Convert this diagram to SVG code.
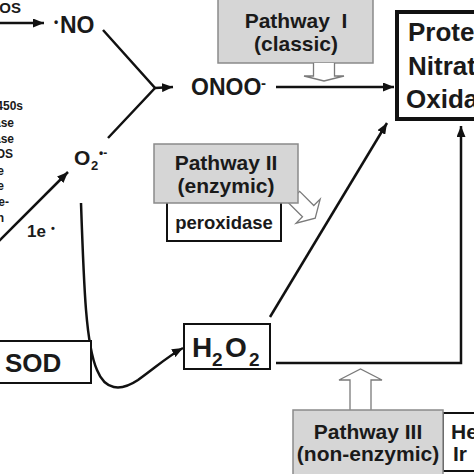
<svg xmlns="http://www.w3.org/2000/svg" width="474" height="474" viewBox="0 0 474 474">
<style>
text{font-family:"Liberation Sans",Arial,sans-serif;font-weight:bold;fill:#1a1a1a}
.ln{fill:none;stroke:#111;stroke-width:2.5}
.bx{fill:#fff;stroke:#111;stroke-width:2}
.gb{fill:#d6d6d6;stroke:#8a8a8a;stroke-width:1.5}
.ha{fill:#fff;stroke:#7a7a7a;stroke-width:1.3}
.pw{font-size:21px}
.sm{font-size:12px}
</style>
<defs>
<marker id="ah" markerUnits="userSpaceOnUse" markerWidth="11" markerHeight="9" refX="11" refY="4.5" orient="auto">
<path d="M0,0 L11,4.5 L0,9 z" fill="#111"/>
</marker>
</defs>

<g id="connectors">
<line class="ln" x1="-2" y1="23" x2="44" y2="23" marker-end="url(#ah)"/>
<line class="ln" x1="-2" y1="242" x2="68" y2="172" marker-end="url(#ah)"/>
<polyline class="ln" points="103,30 155,88 108,138"/>
<line class="ln" x1="155" y1="88" x2="173" y2="87" marker-end="url(#ah)"/>
<line class="ln" x1="276" y1="87" x2="394" y2="87" marker-end="url(#ah)"/>
<path class="ln" d="M81,203 C84,290 86,345 97,370 C105,390 120,392 138,380 C155,368 168,356 183,348" marker-end="url(#ah)"/>
<line class="ln" x1="270" y1="317" x2="387" y2="123" marker-end="url(#ah)"/>
<polyline class="ln" points="276,363 461,363 461,126" marker-end="url(#ah)"/>
</g>

<g id="left-list">
<text x="21" y="13" style="font-size:15px" text-anchor="end">OS</text>
<text class="sm" x="23" y="110" text-anchor="end">450s</text>
<text class="sm" x="14" y="127" text-anchor="end">ase</text>
<text class="sm" x="14" y="143" text-anchor="end">ase</text>
<text class="sm" x="13" y="158" text-anchor="end">OS</text>
<text class="sm" x="4" y="175" text-anchor="end">e</text>
<text class="sm" x="4" y="190" text-anchor="end">e</text>
<text class="sm" x="9" y="206" text-anchor="end">e-</text>
<text class="sm" x="4" y="222" text-anchor="end">n</text>
</g>

<g id="node-no">
<text x="54" y="26" style="font-size:12px">•</text>
<text x="60" y="33" style="font-size:23px">NO</text>
</g>

<g id="node-o2">
<text x="74" y="165" style="font-size:21px">O</text>
<text x="91" y="170" style="font-size:13px">2</text>
<text x="99" y="157" style="font-size:12px">•-</text>
</g>

<g id="node-1e">
<text x="27" y="237" style="font-size:17px">1e</text>
<text x="51" y="232" style="font-size:11px">•</text>
</g>

<g id="node-onoo">
<text x="191" y="95" style="font-size:23px">ONOO</text>
<text x="261" y="88" style="font-size:15px">-</text>
</g>

<g id="pathway1">
<rect class="gb" x="218" y="-2" width="155" height="65"/>
<text class="pw" x="296" y="28" text-anchor="middle">Pathway&#160; I</text>
<text class="pw" x="296" y="51" text-anchor="middle">(classic)</text>
<path class="ha" d="M313.5,63 V76 H304 L324,81 L344,76 H334.5 V63"/>
</g>

<g id="protein">
<rect x="397" y="12" width="100" height="107" fill="#fff" stroke="#111" stroke-width="4"/>
<text x="408" y="41" style="font-size:26px">Prote</text>
<text x="408" y="75" style="font-size:26px">Nitrat</text>
<text x="406" y="108" style="font-size:26px">Oxida</text>
</g>

<g id="pathway2">
<polygon class="ha" points="0,-8 20,-8 20,-17 30,0 20,17 20,8 0,8" transform="translate(294,197) rotate(45)"/>
<rect class="bx" x="167" y="195" width="114" height="46"/>
<text x="224" y="229" text-anchor="middle" style="font-size:18.5px">peroxidase</text>
<rect class="gb" x="154" y="144" width="144" height="59"/>
<text class="pw" x="226" y="170" text-anchor="middle">Pathway II</text>
<text class="pw" x="226" y="193" text-anchor="middle">(enzymic)</text>
</g>

<g id="sod">
<rect class="bx" x="-5" y="341" width="96" height="42"/>
<text x="5" y="372" style="font-size:26px">SOD</text>
</g>

<g id="h2o2">
<rect class="bx" x="184" y="324" width="86" height="45"/>
<text x="192" y="357" style="font-size:28px">H</text>
<text x="212" y="366" style="font-size:19px">2</text>
<text x="225" y="357" style="font-size:28px">O</text>
<text x="249" y="366" style="font-size:19px">2</text>
</g>

<g id="pathway3">
<path class="ha" d="M350,410 V380 H339 L360.5,369 L382,380 H371 V410"/>
<rect class="bx" x="443" y="413" width="50" height="58"/>
<text x="451" y="439" style="font-size:21px">He</text>
<text x="453" y="461" style="font-size:21px">Ir</text>
<rect class="gb" x="293" y="410" width="150" height="70"/>
<text class="pw" x="368" y="439" text-anchor="middle">Pathway III</text>
<text class="pw" x="368" y="461" text-anchor="middle">(non-enzymic)</text>
</g>
</svg>
